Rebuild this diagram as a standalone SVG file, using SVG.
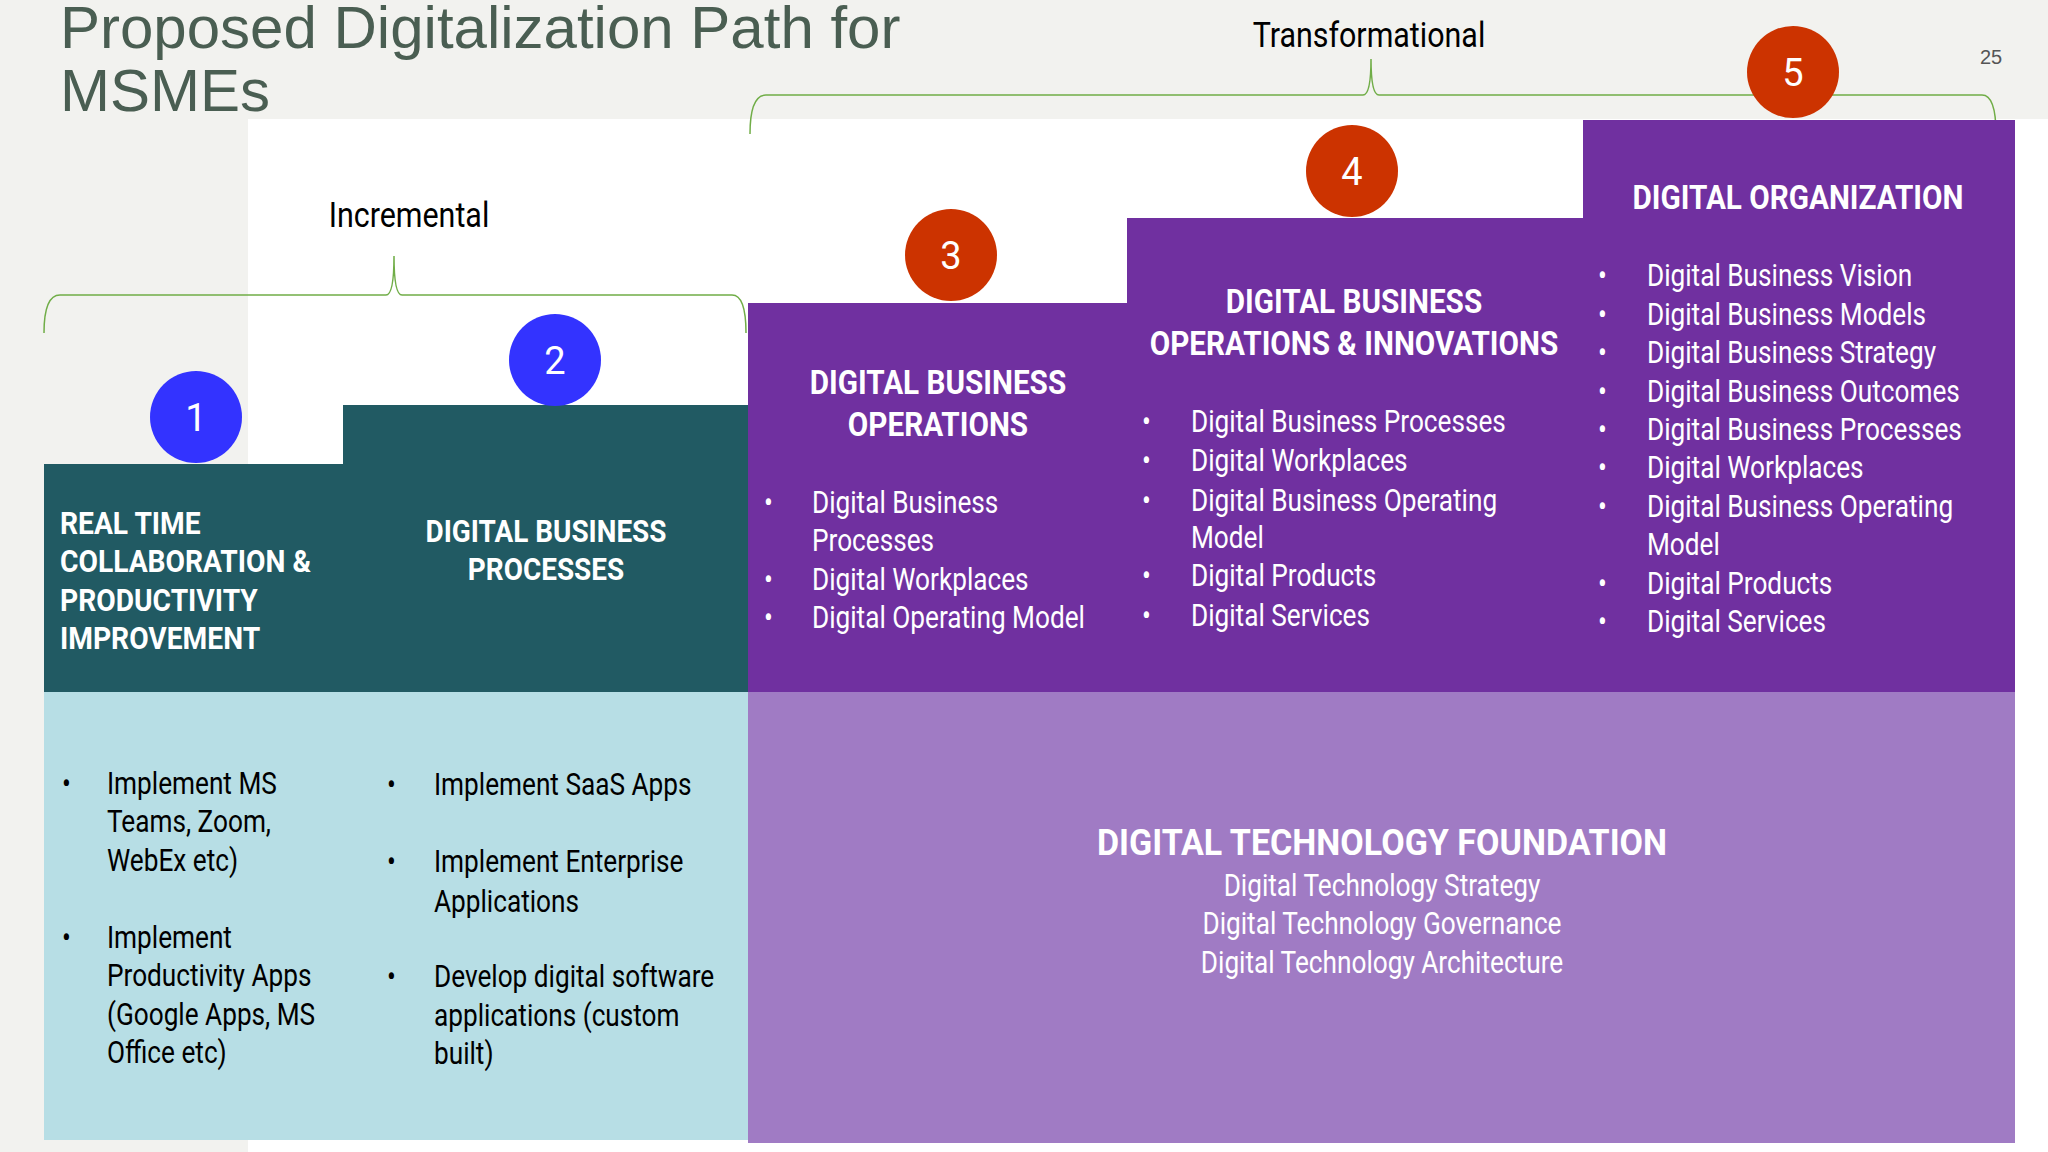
<svg xmlns="http://www.w3.org/2000/svg" width="2048" height="1152" viewBox="0 0 2048 1152">
<style>
.n{font-family:"Roboto","Liberation Sans",sans-serif;fill:#fff}
.n text{fill:inherit}
.b{font-weight:bold}
.t{font-size:31px}
.h{font-size:33px;font-weight:bold}
.k{fill:#000}
.br{fill:none;stroke:#70ad47;stroke-width:1.5}
.L text,text.L{transform-box:fill-box;transform-origin:0 50%;transform:scaleX(.845)}
.C text,text.C{transform-box:fill-box;transform-origin:50% 50%;transform:scaleX(.845)}
.LB text{transform-box:fill-box;transform-origin:0 50%;transform:scaleX(.91)}
.CB text,text.CB{transform-box:fill-box;transform-origin:50% 50%;transform:scaleX(.9)}
</style>
<rect width="2048" height="1152" fill="#f2f2ef"/>
<rect x="248" y="119" width="1800" height="1033" fill="#ffffff"/>
<rect x="0" y="692" width="44" height="460" fill="#f2f2ef"/>
<text x="60" y="48" font-family="Liberation Sans,sans-serif" font-size="60" fill="#4a5e52">Proposed Digitalization Path for</text>
<text x="60" y="111" font-family="Liberation Sans,sans-serif" font-size="60" fill="#4a5e52">MSMEs</text>
<text x="1980" y="64" font-family="Liberation Sans,sans-serif" font-size="20" fill="#555">25</text>
<g id="connectors">
<path class="br" d="M44,333 Q44,295 60,295 L386,295 Q394,295 394,256 Q394,295 402,295 L732,295 Q746,295 746,333"/>
<path class="br" d="M750,134 Q750,95 766,95 L1363,95 Q1371,95 1371,59 Q1371,95 1379,95 L1982,95 Q1996,95 1996,134"/>
<text class="n k C" x="409" y="227" font-size="36" text-anchor="middle">Incremental</text>
<text class="n k C" x="1369" y="47" font-size="36" text-anchor="middle">Transformational</text>
</g>
<g id="foundation-left">
<rect x="44" y="692" width="704" height="448" fill="#b7dee5"/>
<g class="n t L" style="fill:#000">
<text x="62" y="794">•</text><text x="107" y="794">Implement MS</text>
<text x="107" y="832">Teams, Zoom,</text><text x="107" y="871">WebEx etc)</text>
<text x="62" y="948">•</text><text x="107" y="948">Implement</text>
<text x="107" y="986">Productivity Apps</text><text x="107" y="1025">(Google Apps, MS</text><text x="107" y="1063">Office etc)</text>
<text x="387" y="795">•</text><text x="434" y="795">Implement SaaS Apps</text>
<text x="387" y="872">•</text><text x="434" y="872">Implement Enterprise</text><text x="434" y="912">Applications</text>
<text x="387" y="987">•</text><text x="434" y="987">Develop digital software</text><text x="434" y="1026">applications (custom</text><text x="434" y="1064">built)</text>
</g>
</g>
<g id="foundation">
<rect x="748" y="692" width="1267" height="451" fill="#a07bc4"/>
<text class="n b CB" x="1382" y="855" font-size="37" text-anchor="middle" style="transform-box:fill-box;transform-origin:50% 50%;transform:scaleX(.92)">DIGITAL TECHNOLOGY FOUNDATION</text>
<g class="n t C" text-anchor="middle">
<text x="1382" y="896">Digital Technology Strategy</text>
<text x="1382" y="934">Digital Technology Governance</text>
<text x="1382" y="973">Digital Technology Architecture</text>
</g>
</g>
<g id="step1">
<rect x="44" y="464" width="299" height="228" fill="#215a63"/>
<g class="n t b LB"><text x="60" y="534">REAL TIME</text><text x="60" y="572">COLLABORATION &amp;</text><text x="60" y="611">PRODUCTIVITY</text><text x="60" y="649">IMPROVEMENT</text></g>
<ellipse cx="196" cy="417" rx="46" ry="46" fill="#3333ff"/>
<text class="n" x="196" y="431" font-size="38" text-anchor="middle">1</text>
</g>
<g id="step2">
<rect x="343" y="405" width="405" height="287" fill="#215a63"/>
<g class="n t b CB" text-anchor="middle"><text x="546" y="542">DIGITAL BUSINESS</text><text x="546" y="580">PROCESSES</text></g>
<ellipse cx="555" cy="360" rx="46" ry="46" fill="#3333ff"/>
<text class="n" x="555" y="374" font-size="38" text-anchor="middle">2</text>
</g>
<g id="step3">
<rect x="748" y="303" width="379" height="389" fill="#7030a0"/>
<g class="n h CB" text-anchor="middle"><text x="938" y="394">DIGITAL BUSINESS</text><text x="938" y="436">OPERATIONS</text></g>
<g class="n t L">
<text x="764" y="513">•</text><text x="812" y="513">Digital Business</text><text x="812" y="551">Processes</text>
<text x="764" y="590">•</text><text x="812" y="590">Digital Workplaces</text>
<text x="764" y="628">•</text><text x="812" y="628">Digital Operating Model</text>
</g>
<ellipse cx="951" cy="255" rx="46" ry="46" fill="#cc3300"/>
<text class="n" x="951" y="269" font-size="38" text-anchor="middle">3</text>
</g>
<g id="step4">
<rect x="1127" y="218" width="456" height="474" fill="#7030a0"/>
<g class="n h CB" text-anchor="middle"><text x="1354" y="313">DIGITAL BUSINESS</text><text x="1354" y="355">OPERATIONS &amp; INNOVATIONS</text></g>
<g class="n t L">
<text x="1142" y="432">•</text><text x="1191" y="432">Digital Business Processes</text>
<text x="1142" y="471">•</text><text x="1191" y="471">Digital Workplaces</text>
<text x="1142" y="511">•</text><text x="1191" y="511">Digital Business Operating</text><text x="1191" y="548">Model</text>
<text x="1142" y="586">•</text><text x="1191" y="586">Digital Products</text>
<text x="1142" y="626">•</text><text x="1191" y="626">Digital Services</text>
</g>
<ellipse cx="1352" cy="171" rx="46" ry="46" fill="#cc3300"/>
<text class="n" x="1352" y="185" font-size="38" text-anchor="middle">4</text>
</g>
<g id="step5">
<rect x="1583" y="120" width="432" height="572" fill="#7030a0"/>
<g class="n h CB" text-anchor="middle"><text x="1798" y="209">DIGITAL ORGANIZATION</text></g>
<g class="n t L">
<text x="1598" y="286">•</text><text x="1647" y="286">Digital Business Vision</text>
<text x="1598" y="325">•</text><text x="1647" y="325">Digital Business Models</text>
<text x="1598" y="363">•</text><text x="1647" y="363">Digital Business Strategy</text>
<text x="1598" y="402">•</text><text x="1647" y="402">Digital Business Outcomes</text>
<text x="1598" y="440">•</text><text x="1647" y="440">Digital Business Processes</text>
<text x="1598" y="478">•</text><text x="1647" y="478">Digital Workplaces</text>
<text x="1598" y="517">•</text><text x="1647" y="517">Digital Business Operating</text><text x="1647" y="555">Model</text>
<text x="1598" y="594">•</text><text x="1647" y="594">Digital Products</text>
<text x="1598" y="632">•</text><text x="1647" y="632">Digital Services</text>
</g>
<ellipse cx="1793" cy="72" rx="46" ry="46" fill="#cc3300"/>
<text class="n" x="1793" y="86" font-size="38" text-anchor="middle">5</text>
</g>
</svg>
